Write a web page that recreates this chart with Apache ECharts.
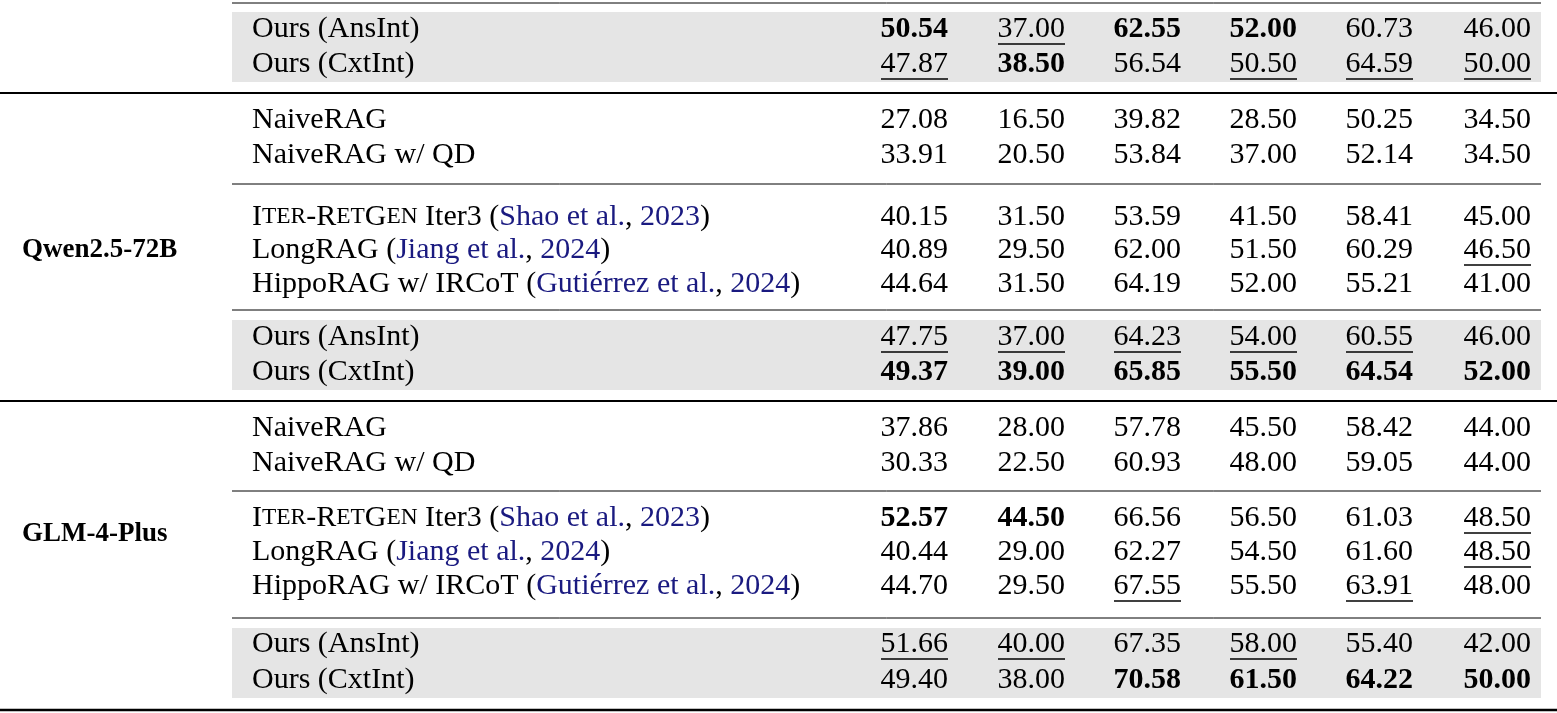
<!DOCTYPE html>
<html><head><meta charset="utf-8">
<script src="https://cdn.jsdelivr.net/npm/echarts@6/dist/echarts.min.js"></script>
<style>html,body{margin:0;padding:0;background:#fff}#c{width:1557px;height:713px}</style>
</head><body><div id="c"></div>
<script>
// ---- data ----
const methodNames = {
  naive: "{n|NaiveRAG}",
  qd: "{n|NaiveRAG w/ QD}",
  iter: "{n|I}{sc|TER}{n|-R}{sc|ET}{n|G}{sc|EN}{n| Iter3 (}{c|Shao et al.}{n|, }{c|2023}{n|)}",
  long: "{n|LongRAG (}{c|Jiang et al.}{n|, }{c|2024}{n|)}",
  hippo: "{n|HippoRAG w/ IRCoT (}{c|Gutiérrez et al.}{n|, }{c|2024}{n|)}",
  ans: "{n|Ours (AnsInt)}",
  cxt: "{n|Ours (CxtInt)}"
};
const groupLabels = ["", "Qwen2.5-72B", "GLM-4-Plus"];
// group 0 (top, partially shown)
const g0Methods = ["ans", "cxt"];
const g0Values = [
  ["50.54","37.00","62.55","52.00","60.73","46.00"],
  ["47.87","38.50","56.54","50.50","64.59","50.00"]];
const g0Marks = [
  ["b","u","b","b","",""],
  ["u","b","","u","u","u"]];
// group 1 Qwen
const g1Methods = ["naive","qd","iter","long","hippo","ans","cxt"];
const g1Values = [
  ["27.08","16.50","39.82","28.50","50.25","34.50"],
  ["33.91","20.50","53.84","37.00","52.14","34.50"],
  ["40.15","31.50","53.59","41.50","58.41","45.00"],
  ["40.89","29.50","62.00","51.50","60.29","46.50"],
  ["44.64","31.50","64.19","52.00","55.21","41.00"],
  ["47.75","37.00","64.23","54.00","60.55","46.00"],
  ["49.37","39.00","65.85","55.50","64.54","52.00"]];
const g1Marks = [
  ["","","","","",""],["","","","","",""],["","","","","",""],
  ["","","","","","u"],["","","","","",""],
  ["u","u","u","u","u",""],["b","b","b","b","b","b"]];
// group 2 GLM
const g2Methods = ["naive","qd","iter","long","hippo","ans","cxt"];
const g2Values = [
  ["37.86","28.00","57.78","45.50","58.42","44.00"],
  ["30.33","22.50","60.93","48.00","59.05","44.00"],
  ["52.57","44.50","66.56","56.50","61.03","48.50"],
  ["40.44","29.00","62.27","54.50","61.60","48.50"],
  ["44.70","29.50","67.55","55.50","63.91","48.00"],
  ["51.66","40.00","67.35","58.00","55.40","42.00"],
  ["49.40","38.00","70.58","61.50","64.22","50.00"]];
const g2Marks = [
  ["","","","","",""],["","","","","",""],
  ["b","b","","","","u"],["","","","","","u"],["","","u","","u",""],
  ["u","u","","u","",""],["","","b","b","b","b"]];

// ---- layout ----
const FONT = "'Liberation Serif','Times New Roman',serif";
const FS = 30;
const colRight = [948, 1065, 1181, 1297, 1413, 1531];
const methodX = 252;
const tableL = 232, tableR = 1541;
const els = [];
function hline(y, x1, x2, w) {
  els.push({type:'line', shape:{x1, y1:y, x2, y2:y}, style:{stroke:'#000', lineWidth:w}, z:5});
}
function band(y1, y2) {
  els.push({type:'rect', shape:{x:tableL, y:y1, width:tableR-tableL, height:y2-y1}, style:{fill:'#e5e5e5'}, z:0});
}
const rich = {
  n:{fontFamily:FONT, fontSize:FS, fill:'#000'},
  sc:{fontFamily:FONT, fontSize:FS*0.78, fill:'#000'},
  c:{fontFamily:FONT, fontSize:FS, fill:'#1a1a80'}
};
function row(y, mkey, vals, marks) {
  els.push({type:'text', x:methodX, y, style:{text:methodNames[mkey], rich, verticalAlign:'middle', align:'left'}, z:10});
  vals.forEach((v,i)=>{
    const bold = marks[i]==='b';
    els.push({type:'text', x:colRight[i], y, style:{text:v, font:(bold?'bold ':'')+FS+'px '+FONT, fill:'#000', align:'right', verticalAlign:'middle'}, z:10});
    if (marks[i]==='u') {
      els.push({type:'line', shape:{x1:colRight[i]-67, y1:y+15, x2:colRight[i], y2:y+15}, style:{stroke:'#000', lineWidth:1.3}, z:10});
    }
  });
}
function group(ys, methods, values, marks, label, labelY) {
  methods.forEach((m,i)=>row(ys[i], m, values[i], marks[i]));
  if (label) els.push({type:'text', x:22, y:labelY, style:{text:label, font:'bold 27px '+FONT, fill:'#000', verticalAlign:'middle'}, z:10});
}
// group 0
hline(3, tableL, tableR, 1);
band(12, 82);
group([29, 64], g0Methods, g0Values, g0Marks, groupLabels[0]);
hline(93, 0, 1557, 2);
// group 1
group([120,155,217,250,284,337,372], g1Methods, g1Values, g1Marks, groupLabels[1], 250);
hline(184, tableL, tableR, 1);
hline(310, tableL, tableR, 1);
band(320, 390);
hline(401, 0, 1557, 2);
// group 2
group([428,463,518,552,586,644,680], g2Methods, g2Values, g2Marks, groupLabels[2], 534);
hline(491, tableL, tableR, 1);
hline(618, tableL, tableR, 1);
band(628, 698);
hline(710, 0, 1557, 2.5);

const chart = echarts.init(document.getElementById('c'));
chart.setOption({animation:false, graphic:{elements:els}});
</script></body></html>
